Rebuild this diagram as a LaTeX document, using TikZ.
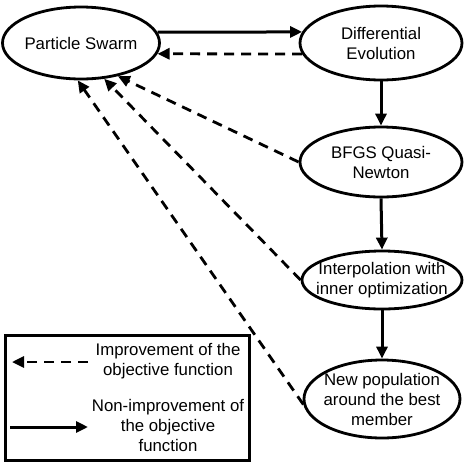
\documentclass[tikz,border=0pt]{standalone}
\usepackage{fontspec}
\setmainfont{Liberation Sans}
\usetikzlibrary{shapes.geometric,arrows.meta}

\tikzset{
  stage/.style={draw,ellipse,line width=2.8pt,inner sep=0pt},
  stagetext/.style={align=center,font=\fontsize{16.8}{20}\selectfont},
  better/.style={line width=2.8pt,dash pattern=on 10pt off 7pt,-{Triangle[length=12pt,width=11pt]}},
  worse/.style={line width=3pt,-{Triangle[length=12pt,width=11pt]}}
}

\begin{document}
\begin{tikzpicture}[x=1pt,y=-1pt]
  \useasboundingbox (0,0) rectangle (474,464);
  % stages
  \node[stage,minimum width=157pt,minimum height=72pt,
        label={[stagetext]center:Particle Swarm}] (ps) at (81,43) {};
  \node[stage,minimum width=162pt,minimum height=74pt,
        label={[stagetext]center:Differential\\Evolution}] (de) at (381,43) {};
  \node[stage,minimum width=162pt,minimum height=70pt,
        label={[stagetext]center:BFGS Quasi-\\Newton}] (bfgs) at (381,162) {};
  \node[stage,minimum width=160pt,minimum height=58pt,
        label={[stagetext]center:Interpolation with\\inner optimization}] (interp) at (382,280) {};
  \node[stage,minimum width=156pt,minimum height=78pt,
        label={[stagetext]center:New population\\around the best\\member}] (newpop) at (382,399) {};
  % non-improvement
  \draw[worse] (ps.8) -- (de.172);
  \draw[worse] (de.south) -- (bfgs.north);
  \draw[worse] (bfgs.south) -- (interp.north);
  \draw[worse] (interp.south) -- (newpop.north);
  % improvement
  \draw[better] (de.188) -- (ps.-8);
  \draw[better] (bfgs.west) -- (ps.-42);
  \draw[better] (interp.west) -- (ps.-57);
  \draw[better] (newpop.184) -- (ps.-95);
  % legend
  \draw[line width=3pt] (5,335) rectangle (249,460);
  \coordinate (l1a) at (88,362);
  \coordinate (l1b) at (12,362);
  \coordinate (l2a) at (10,427);
  \coordinate (l2b) at (88,427);
  \draw[better] (l1a) -- (l1b);
  \draw[worse] (l2a) -- (l2b);
  \node[stagetext] (limp) at (168,361) {Improvement of the\\objective function};
  \node[stagetext] (lnon) at (168,425) {Non-improvement of\\the objective\\function};
\end{tikzpicture}
\end{document}
